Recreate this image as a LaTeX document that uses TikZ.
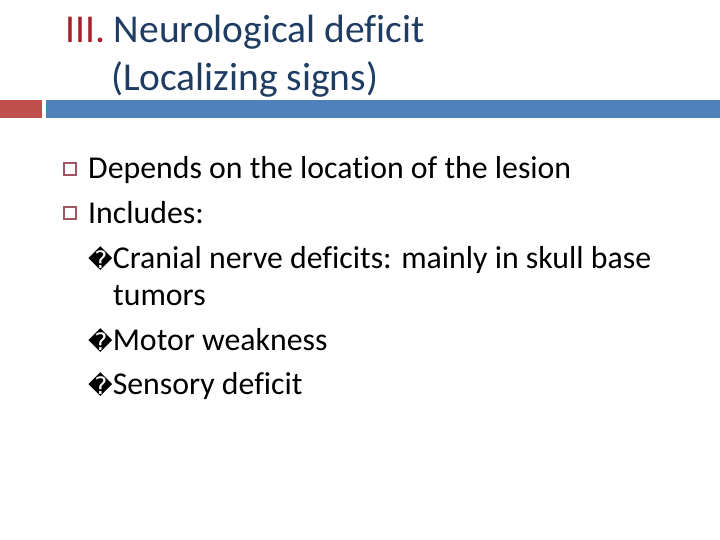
\documentclass[tikz,border=0pt]{standalone}
\usepackage{fontspec}
\setmainfont[Ligatures=NoCommon]{Carlito}
\newfontfamily\symfont{DejaVu Sans}
\definecolor{tred}{HTML}{A5202A}
\definecolor{tblue}{HTML}{1F3D63}
\definecolor{bred}{HTML}{C0504D}
\definecolor{bblue}{HTML}{4F81BD}
\definecolor{sq}{HTML}{A05560}
\begin{document}
\begin{tikzpicture}[x=1pt,y=-1pt,
  title/.style={anchor=base west,inner sep=0pt,font=\fontsize{39.5}{44}\selectfont,text=tblue},
  body/.style={anchor=base west,inner sep=0pt,font=\fontsize{31.8}{36}\selectfont},
  sqb/.style={draw=sq,line width=1.6pt,minimum size=12pt,inner sep=0pt}]
\useasboundingbox (0,0) rectangle (720,540);
\fill[white] (0,0) rectangle (720,540);
\node[title] (t1) at (65,43) {\textcolor{tred}{III.} Neurological deficit};
\node[title] (t2) at (111,91) {(Localizing signs)};
\fill[bred] (0,100) rectangle (42,118);
\fill[bblue] (46,100) rectangle (720,118);
\node[sqb] (s1) at (70,169) {};
\node[body] (l1) at (88,179) {Depends on the location of the lesion};
\node[sqb] (s2) at (70,213) {};
\node[body] (l2) at (88,223) {Includes:};
\node[body] (l3) at (88,268) {{\symfont\fontsize{24}{28}\selectfont �}Cranial nerve deficits: mainly in skull base};
\node[body] (l4) at (113,305) {tumors};
\node[body] (l5) at (88,350) {{\symfont\fontsize{24}{28}\selectfont �}Motor weakness};
\node[body] (l6) at (88,394) {{\symfont\fontsize{24}{28}\selectfont �}Sensory deficit};
\end{tikzpicture}
\end{document}
